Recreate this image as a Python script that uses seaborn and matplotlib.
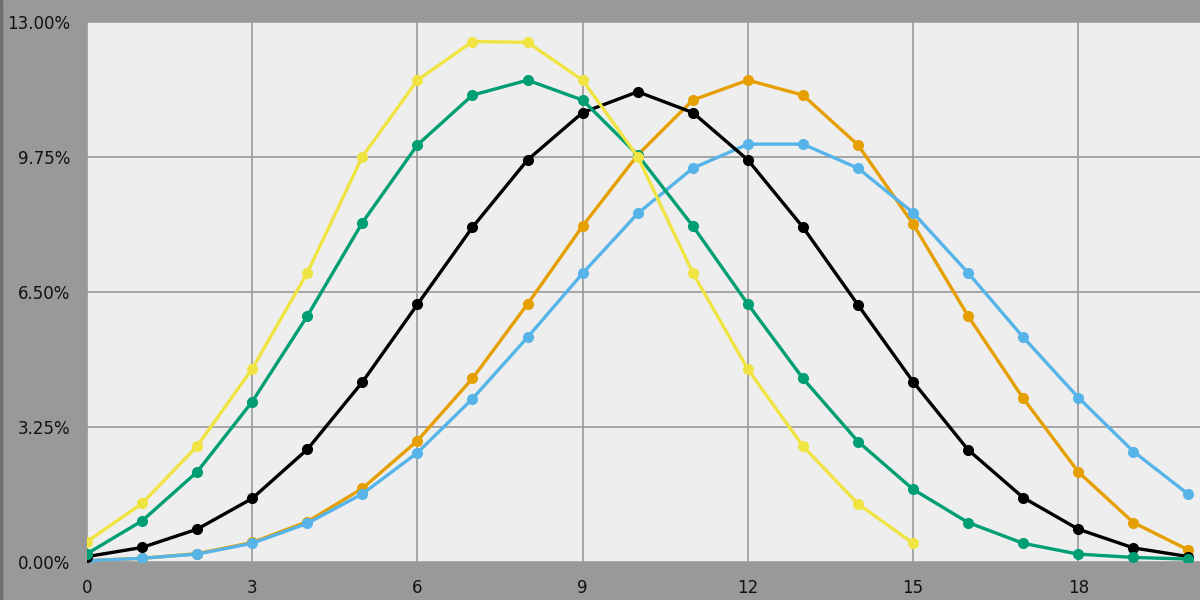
import numpy as np
import pandas as pd
import matplotlib
matplotlib.use("Agg")
import matplotlib.pyplot as plt
from matplotlib.ticker import PercentFormatter
from matplotlib.lines import Line2D
import seaborn as sns

# values in percent
x_full = list(range(0, 21))
x_short = list(range(0, 16))

orange = [0.03, 0.09, 0.20, 0.47, 0.97, 1.77, 2.92, 4.42, 6.21, 8.09, 9.80,
          11.12, 11.60, 11.24, 10.04, 8.14, 5.92, 3.94, 2.17, 0.95, 0.29]
blue = [0.03, 0.09, 0.19, 0.45, 0.93, 1.64, 2.63, 3.93, 5.41, 6.95, 8.39,
        9.48, 10.06, 10.06, 9.48, 8.41, 6.96, 5.41, 3.96, 2.66, 1.63]
black = [0.13, 0.35, 0.79, 1.53, 2.71, 4.33, 6.20, 8.06, 9.68, 10.82, 11.32,
         10.82, 9.68, 8.06, 6.19, 4.34, 2.70, 1.55, 0.79, 0.34, 0.13]
green = [0.20, 0.99, 2.17, 3.86, 5.92, 8.17, 10.04, 11.24, 11.60, 11.12, 9.80,
         8.09, 6.21, 4.42, 2.90, 1.75, 0.95, 0.45, 0.19, 0.11, 0.07]
yellow = [0.49, 1.41, 2.79, 4.65, 6.96, 9.76, 11.60, 12.53, 12.51, 11.60, 9.76,
          6.96, 4.64, 2.79, 1.40, 0.45]

series_names = ["orange", "blue", "black", "green", "yellow"]
series_colors = ["#e69f00", "#56b4e9", "#000000", "#009e73", "#f0e442"]

x_ticks = [0, 3, 6, 9, 12, 15, 18]
y_ticks = [0.0, 3.25, 6.50, 9.75, 13.0]

# long-form table for seaborn
frames = []
for name, xs, ys in [("orange", x_full, orange), ("blue", x_full, blue),
                     ("black", x_full, black), ("green", x_full, green),
                     ("yellow", x_short, yellow)]:
    frames.append(pd.DataFrame({"x": xs, "y": ys, "series": name}))
df = pd.concat(frames, ignore_index=True)

sns.set_style("white")
plt.rcParams["font.family"] = ["DejaVu Sans"]

fig = plt.figure(figsize=(12, 6), dpi=100)
fig.patch.set_facecolor("#999999")
ax = fig.add_axes([87 / 1200, 1 - 562 / 600, 1 - 87 / 1200, 540 / 600])
ax.set_facecolor("#eeeeee")

sns.lineplot(data=df, x="x", y="y", hue="series", hue_order=series_names,
             palette=dict(zip(series_names, series_colors)), marker="o",
             markersize=8, markeredgewidth=0, linewidth=2.4, legend=False,
             ax=ax, zorder=3)

ax.set_xlim(0, (1200 - 87) / 55.07)
ax.set_ylim(0, 13)
ax.set_xticks(x_ticks)
ax.set_yticks(y_ticks)
ax.yaxis.set_major_formatter(PercentFormatter(xmax=100, decimals=2))
ax.grid(True, color="#999999", linewidth=1.2)
ax.set_axisbelow(True)
ax.tick_params(length=0, pad=12, labelsize=12, labelcolor="#111111")
ax.set_xlabel("")
ax.set_ylabel("")
for s in ax.spines.values():
    s.set_visible(False)

# darker strip on the left edge of the frame
fig.add_artist(Line2D([0.001, 0.001], [0, 1], transform=fig.transFigure,
                      color="#6e6e6e", linewidth=2.5))

fig.savefig("out.png", dpi=100, facecolor=fig.get_facecolor())
